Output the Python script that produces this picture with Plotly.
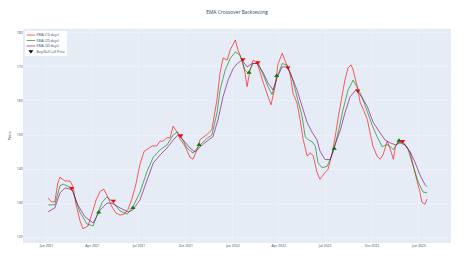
import plotly.graph_objects as go

chart_title = "EMA Crossover Backtesting"
y_title = "Price"

ema10_dates = ["2021-01-04", "2021-01-11", "2021-01-17", "2021-01-23", "2021-01-27", "2021-02-06", "2021-02-16", "2021-02-22", "2021-02-27", "2021-03-07",
               "2021-03-13", "2021-03-23", "2021-03-31", "2021-04-08", "2021-04-16", "2021-04-23", "2021-05-01", "2021-05-09", "2021-05-17", "2021-05-25",
               "2021-06-02", "2021-06-10", "2021-06-17", "2021-06-25", "2021-07-03", "2021-07-11", "2021-07-17", "2021-07-27", "2021-08-05", "2021-08-11",
               "2021-08-17", "2021-08-25", "2021-08-31", "2021-09-06", "2021-09-14", "2021-09-20", "2021-09-29", "2021-10-09", "2021-10-15", "2021-10-23",
               "2021-10-29", "2021-11-12", "2021-11-21", "2021-12-01", "2021-12-07", "2021-12-13", "2021-12-21", "2021-12-27", "2022-01-06", "2022-01-11",
               "2022-01-19", "2022-01-25", "2022-01-29", "2022-02-04", "2022-02-10", "2022-02-18", "2022-02-24", "2022-03-02", "2022-03-11", "2022-03-17",
               "2022-03-25", "2022-03-31", "2022-04-08", "2022-04-13", "2022-04-23", "2022-04-29", "2022-05-07", "2022-05-13", "2022-05-19", "2022-05-27",
               "2022-06-02", "2022-06-08", "2022-06-15", "2022-06-21", "2022-07-01", "2022-07-07", "2022-07-15", "2022-07-21", "2022-07-27", "2022-08-03",
               "2022-08-09", "2022-08-15", "2022-08-21", "2022-08-25", "2022-09-02", "2022-09-08", "2022-09-14", "2022-09-22", "2022-09-27", "2022-10-03",
               "2022-10-11", "2022-10-17", "2022-10-23", "2022-10-31", "2022-11-06", "2022-11-12", "2022-11-16", "2022-11-22", "2022-11-29", "2022-12-09",
               "2022-12-15", "2022-12-21", "2022-12-29", "2023-01-03", "2023-01-07", "2023-01-13", "2023-01-17"]
ema10 = [131.5, 130.3, 130.5, 136.0, 137.6, 136.5, 136.5, 134.7, 130.0, 125.0,
         122.5, 123.3, 127.0, 131.0, 133.5, 134.1, 131.8, 128.9, 127.1, 126.5,
         126.8, 128.3, 131.2, 135.6, 141.4, 145.2, 145.8, 146.8, 146.8, 148.2,
         148.2, 149.2, 149.2, 152.6, 150.8, 148.7, 146.8, 143.5, 142.9, 145.8,
         148.7, 150.2, 151.6, 160.4, 168.2, 172.6, 172.0, 175.0, 177.9, 175.0,
         172.0, 168.2, 164.2, 169.1, 172.0, 171.0, 168.2, 165.3, 161.3, 158.9,
         164.2, 171.0, 174.0, 172.0, 168.2, 162.3, 159.4, 154.5, 148.7, 143.8,
         144.8, 143.8, 139.1, 137.0, 139.0, 140.0, 144.8, 149.6, 155.4, 161.3,
         166.2, 169.7, 170.6, 169.1, 164.2, 159.5, 157.5, 154.5, 150.8, 146.7,
         143.8, 142.9, 144.3, 148.2, 145.8, 142.9, 146.7, 148.2, 148.2, 146.4,
         144.8, 140.9, 136.1, 133.2, 130.3, 129.7, 131.2]

ema20_dates = ["2021-01-04", "2021-01-17", "2021-01-27", "2021-02-02", "2021-02-16", "2021-02-22", "2021-03-07", "2021-03-21", "2021-04-02", "2021-04-12",
               "2021-04-20", "2021-04-29", "2021-05-09", "2021-05-25", "2021-06-08", "2021-06-19", "2021-07-03", "2021-07-17", "2021-07-29", "2021-08-11",
               "2021-08-25", "2021-09-06", "2021-09-14", "2021-09-23", "2021-10-03", "2021-10-15", "2021-10-29", "2021-11-12", "2021-11-21", "2021-12-01",
               "2021-12-07", "2021-12-17", "2021-12-27", "2022-01-06", "2022-01-15", "2022-01-25", "2022-01-31", "2022-02-10", "2022-02-20", "2022-03-02",
               "2022-03-11", "2022-03-19", "2022-03-29", "2022-04-08", "2022-04-18", "2022-04-27", "2022-05-07", "2022-05-17", "2022-05-23", "2022-05-29",
               "2022-06-06", "2022-06-12", "2022-06-17", "2022-06-25", "2022-07-05", "2022-07-17", "2022-07-27", "2022-08-05", "2022-08-15", "2022-08-25",
               "2022-09-02", "2022-09-12", "2022-09-22", "2022-10-01", "2022-10-11", "2022-10-21", "2022-10-31", "2022-11-06", "2022-11-12", "2022-11-21",
               "2022-12-01", "2022-12-11", "2022-12-21", "2022-12-31", "2023-01-09", "2023-01-17"]
ema20 = [129.5, 129.5, 135.1, 135.6, 134.7, 133.2, 127.4, 123.9, 123.3, 127.4,
         130.3, 131.8, 130.6, 127.7, 126.8, 128.9, 133.2, 139.4, 143.5, 145.6,
         147.1, 150.0, 150.9, 149.1, 146.2, 144.7, 147.1, 149.1, 150.0, 156.5,
         163.2, 169.0, 172.5, 174.4, 173.5, 169.1, 168.2, 171.0, 171.0, 167.6,
         164.2, 161.9, 167.0, 171.0, 170.5, 167.0, 161.2, 155.4, 149.5, 148.6,
         148.0, 146.6, 141.9, 140.4, 140.8, 145.0, 150.9, 157.3, 163.2, 166.1,
         164.1, 160.9, 156.8, 153.0, 149.5, 146.6, 147.2, 146.6, 145.7, 147.8,
         147.8, 145.7, 140.8, 136.1, 133.3, 133.0]

ema30_dates = ["2021-01-04", "2021-01-17", "2021-01-27", "2021-02-06", "2021-02-20", "2021-03-03", "2021-03-17", "2021-04-02", "2021-04-16", "2021-04-29",
               "2021-05-09", "2021-05-25", "2021-06-10", "2021-06-19", "2021-07-03", "2021-07-17", "2021-07-29", "2021-08-11", "2021-08-25", "2021-09-06",
               "2021-09-15", "2021-09-26", "2021-10-09", "2021-10-19", "2021-11-02", "2021-11-14", "2021-11-23", "2021-12-03", "2021-12-13", "2021-12-23",
               "2022-01-02", "2022-01-10", "2022-01-19", "2022-01-29", "2022-02-08", "2022-02-18", "2022-03-02", "2022-03-11", "2022-03-21", "2022-03-29",
               "2022-04-08", "2022-04-18", "2022-04-27", "2022-05-07", "2022-05-17", "2022-05-27", "2022-06-06", "2022-06-15", "2022-06-21", "2022-07-01",
               "2022-07-11", "2022-07-17", "2022-07-31", "2022-08-09", "2022-08-19", "2022-08-31", "2022-09-12", "2022-09-22", "2022-10-03", "2022-10-17",
               "2022-10-27", "2022-11-06", "2022-11-16", "2022-11-25", "2022-12-05", "2022-12-15", "2022-12-25", "2023-01-03", "2023-01-13", "2023-01-17"]
ema30 = [127.5, 128.6, 133.0, 134.5, 133.9, 129.5, 126.0, 124.2, 128.0, 130.0,
         130.0, 128.6, 127.4, 128.0, 131.0, 136.8, 141.8, 144.1, 146.2, 148.5,
         150.0, 148.5, 146.2, 145.0, 147.1, 148.5, 149.5, 154.5, 161.3, 166.2,
         169.6, 171.0, 172.0, 170.0, 171.0, 171.0, 168.2, 165.3, 163.2, 167.0,
         170.0, 170.0, 167.0, 163.2, 158.3, 153.6, 150.7, 148.6, 145.3, 142.8,
         142.8, 145.6, 151.5, 156.5, 161.2, 163.3, 160.9, 158.3, 153.8, 150.6,
         148.5, 147.7, 147.1, 147.7, 147.1, 145.0, 141.8, 138.3, 135.4, 134.8]

signal_dates = ["2021-02-19", "2021-04-13", "2021-05-12", "2021-06-19", "2021-09-21", "2021-10-27", "2022-01-21", "2022-02-02",
                "2022-02-19", "2022-03-28", "2022-04-19", "2022-07-19", "2022-09-03", "2022-11-23", "2022-11-30"]
signal_prices = [134.4, 127.3, 130.7, 128.6, 149.9, 147.1, 172.2, 168.3,
                 171.3, 167.4, 169.8, 146.0, 163.0, 148.4, 148.2]
signal_types = ["Sell", "Buy", "Sell", "Buy", "Sell", "Buy", "Sell", "Buy",
                "Sell", "Buy", "Sell", "Buy", "Sell", "Buy", "Sell"]

x_range = ["2020-11-15 12:00", "2023-03-05"]
y_range = [118.3, 181.2]

W, H = 1650, 926
scale = 474 / W

fig = go.Figure()
fig.add_trace(go.Scatter(x=ema10_dates, y=ema10, mode="lines", name="EMA (10 days)", line=dict(color="red", width=2.2)))
fig.add_trace(go.Scatter(x=ema20_dates, y=ema20, mode="lines", name="EMA (20 days)", line=dict(color="green", width=2.2)))
fig.add_trace(go.Scatter(x=ema30_dates, y=ema30, mode="lines", name="EMA (30 days)", line=dict(color="purple", width=2.2)))

sig_colors = ["red" if t == "Sell" else "green" for t in signal_types]
sig_symbols = ["triangle-down" if t == "Sell" else "triangle-up" for t in signal_types]
fig.add_trace(go.Scatter(x=signal_dates, y=signal_prices, mode="markers", name="Buy/Sell Call Price",
                         marker=dict(symbol=sig_symbols, color=sig_colors, size=16), showlegend=False))
fig.add_trace(go.Scatter(x=[None], y=[None], mode="markers", name="Buy/Sell Call Price",
                         marker=dict(symbol="triangle-down", color="black", size=15)))

fig.update_layout(
    template="plotly",
    width=W, height=H,
    title=dict(text=chart_title, x=0.5),
    yaxis_title=y_title,
    legend=dict(x=0.005, y=0.99),
    margin=dict(l=80, r=80, t=100, b=80),
)
fig.update_xaxes(range=x_range)
fig.update_yaxes(range=y_range)

fig.write_html("out.html", post_script="document.body.style.margin='0';document.body.style.zoom='%.5f';" % scale)
